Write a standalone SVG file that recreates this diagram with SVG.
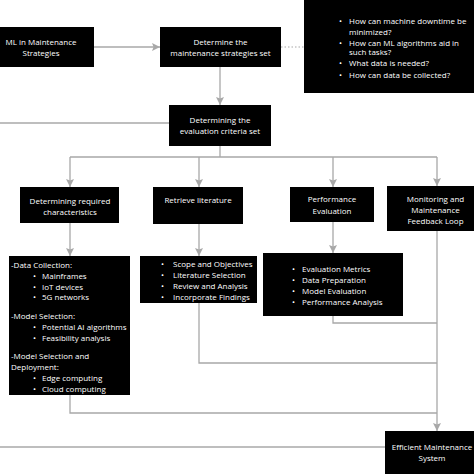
<svg xmlns="http://www.w3.org/2000/svg" width="474" height="474" viewBox="0 0 474 474">
<defs>
<marker id="ah" viewBox="0 0 10 10" refX="10" refY="5" markerWidth="9" markerHeight="8" markerUnits="userSpaceOnUse" orient="auto">
<path d="M0,0 L10,5 L0,10 L2,5 z" fill="#a8a8a8"/>
</marker>
<style>
.box{fill:#000;}
.t{font-family:"Open Sans","Noto Sans",sans-serif;font-size:8px;fill:#fff;}
.c{text-anchor:middle;}
.ln{fill:none;stroke:#a8a8a8;stroke-width:1.3;}
.ar{fill:none;stroke:#a8a8a8;stroke-width:1.3;marker-end:url(#ah);}
</style>
</defs>
<rect width="474" height="474" fill="#fff"/>
<g id="connectors">
<path class="ar" d="M94,47 H160"/>
<path class="ar" d="M220,67 V105"/>
<path d="M281,47 H304" fill="none" stroke="#a8a8a8" stroke-width="1.2" stroke-dasharray="1.5,2"/>
<path class="ln" d="M169,123 H0"/>
<path class="ln" d="M220,146 V157 M70,157 H437"/>
<path class="ar" d="M70,157 V187"/>
<path class="ar" d="M199,157 V187"/>
<path class="ar" d="M333,157 V187"/>
<path class="ar" d="M437,157 V186"/>
<path class="ar" d="M70,223 V256"/>
<path class="ar" d="M199,224 V256"/>
<path class="ar" d="M333,222 V253"/>
<path class="ln" d="M70,395 V413 H437"/>
<path class="ln" d="M199,303 V363 H437"/>
<path class="ln" d="M333,316 V323 H437"/>
<path class="ar" d="M437,231 V431"/>
<path class="ln" d="M0,447 H385"/>
</g>
<g id="ml">
<rect class="box" x="-12" y="27" width="106" height="40"/>
<text class="t c" x="41" y="45">ML in Maintenance</text>
<text class="t c" x="41" y="56">Strategies</text>
</g>
<g id="determine">
<rect class="box" x="160" y="27" width="121" height="40"/>
<text class="t c" x="220.5" y="45">Determine the</text>
<text class="t c" x="220.5" y="56">maintenance strategies set</text>
</g>
<g id="questions">
<rect class="box" x="304" y="-2" width="175" height="95"/>
<g class="t">
<text x="339" y="23.5">•</text><text x="349" y="23.5">How can machine downtime be</text>
<text x="349" y="34.5">minimized?</text>
<text x="339" y="45.5">•</text><text x="349" y="45.5">How can ML algorithms aid in</text>
<text x="349" y="55">such tasks?</text>
<text x="339" y="65.5">•</text><text x="349" y="65.5">What data is needed?</text>
<text x="339" y="77.5">•</text><text x="349" y="77.5">How can data be collected?</text>
</g>
</g>
<g id="evaluation">
<rect class="box" x="169" y="105" width="102" height="41"/>
<text class="t c" x="220" y="123">Determining the</text>
<text class="t c" x="220" y="134">evaluation criteria set</text>
</g>
<g id="characteristics">
<rect class="box" x="20" y="187" width="99" height="36"/>
<text class="t c" x="70" y="204">Determining required</text>
<text class="t c" x="70" y="215">characteristics</text>
</g>
<g id="retrieve">
<rect class="box" x="153" y="187" width="90" height="37"/>
<text class="t c" x="198" y="203">Retrieve  literature</text>
</g>
<g id="performance">
<rect class="box" x="290" y="187" width="84" height="35"/>
<text class="t c" x="332" y="202">Performance</text>
<text class="t c" x="332" y="214">Evaluation</text>
</g>
<g id="monitoring">
<rect class="box" x="387" y="186" width="90" height="45"/>
<text class="t c" x="435.5" y="202">Monitoring and</text>
<text class="t c" x="435.5" y="213">Maintenance</text>
<text class="t c" x="435.5" y="224">Feedback Loop</text>
</g>
<g id="datalist">
<rect class="box" x="9" y="256" width="121" height="139"/>
<g class="t">
<text x="11" y="268">-Data Collection:</text>
<text x="33" y="279">•</text><text x="42" y="279">Mainframes</text>
<text x="33" y="289.5">•</text><text x="42" y="289.5">IoT devices</text>
<text x="33" y="300">•</text><text x="42" y="300">5G networks</text>
<text x="11" y="319">-Model Selection:</text>
<text x="33" y="330">•</text><text x="42" y="330">Potential AI algorithms</text>
<text x="33" y="340.5">•</text><text x="42" y="340.5">Feasibility analysis</text>
<text x="11" y="359">-Model Selection and</text>
<text x="11" y="370">Deployment:</text>
<text x="33" y="381">•</text><text x="42" y="381">Edge computing</text>
<text x="33" y="392">•</text><text x="42" y="392">Cloud computing</text>
</g>
</g>
<g id="literaturelist">
<rect class="box" x="140" y="256" width="117" height="47"/>
<g class="t">
<text x="161" y="267">•</text><text x="173" y="267">Scope and Objectives</text>
<text x="161" y="277.5">•</text><text x="173" y="277.5">Literature Selection</text>
<text x="161" y="289">•</text><text x="173" y="289">Review and Analysis</text>
<text x="161" y="300">•</text><text x="173" y="300">Incorporate Findings</text>
</g>
</g>
<g id="perflist">
<rect class="box" x="263" y="253" width="140" height="63"/>
<g class="t">
<text x="292" y="272">•</text><text x="302" y="272">Evaluation Metrics</text>
<text x="292" y="282.5">•</text><text x="302" y="282.5">Data Preparation</text>
<text x="292" y="294">•</text><text x="302" y="294">Model Evaluation</text>
<text x="292" y="305">•</text><text x="302" y="305">Performance Analysis</text>
</g>
</g>
<g id="efficient">
<rect class="box" x="385" y="431" width="100" height="50"/>
<text class="t c" x="432" y="450">Efficient Maintenance</text>
<text class="t c" x="432" y="461">System</text>
</g>
</svg>
